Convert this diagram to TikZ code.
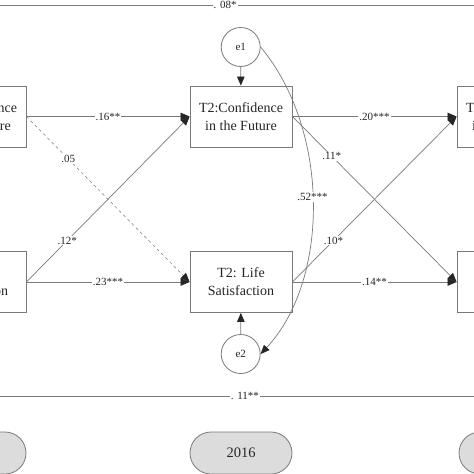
\documentclass[tikz,border=0pt]{standalone}
\usepackage{fontspec}
\setmainfont{Liberation Serif}
\usetikzlibrary{arrows.meta,shapes.misc}
\definecolor{linegray}{HTML}{7A7A7A}
\definecolor{pillgray}{HTML}{DCDCDC}
\definecolor{txt}{HTML}{262626}
\begin{document}
\begin{tikzpicture}[x=1pt,y=-1pt,
  box/.style={draw=linegray, line width=0.8pt, minimum width=102pt, minimum height=61pt,
    align=center, font=\fontsize{14}{18}\selectfont, text=txt, inner sep=0pt},
  err/.style={circle, draw=linegray, line width=0.8pt, minimum size=39pt, inner sep=0pt,
    font=\fontsize{11}{13}\selectfont, text=txt},
  conn/.style={draw=linegray, line width=0.7pt, -{Triangle[length=9pt,width=7.5pt,color=black!85]}},
  plain/.style={draw=linegray, line width=0.7pt},
  lab/.style={fill=white, inner sep=1pt, font=\fontsize{11}{13}\selectfont, text=txt},
  pill/.style={rounded rectangle, draw=linegray, line width=0.8pt, fill=pillgray,
    minimum width=102pt, minimum height=42pt, inner sep=0pt,
    font=\fontsize{14.5}{17}\selectfont, text=txt}
]
\useasboundingbox (0,0) rectangle (474,474);
\clip (0,0) rectangle (474,474);
\fill[white] (0,0) rectangle (474,474);

% boxes
\node[box] (tl) at (-25,116.5) {T1:Confidence\\in the Future};
\node[box] (bl) at (-25,282) {T1: Life\\Satisfaction};
\node[box] (tc) at (241,116.5) {T2:Confidence\\in the Future};
\node[box] (bc) at (241,282) {T2: Life\\Satisfaction};
\node[box] (tr) at (508,116.5) {T3:Confidence\\in the Future};
\node[box] (br) at (508,282) {T3: Life\\Satisfaction};

% error terms
\node[err] (e1) at (240.7,47) {e1};
\node[err] (e2) at (240.7,354) {e2};

% pills
\node[pill] (p1) at (-25,453) {};
\node[pill] (p2) at (241,453) {2016};
\node[pill] (p3) at (510,453) {};

% long lines
\coordinate (ta) at (-10,5);
\coordinate (tb) at (484,5);
\coordinate (ba) at (-10,396);
\coordinate (bb) at (484,396);
\draw[plain] (ta) -- node[lab, pos=0.476] {. 08*} (tb);
\draw[plain] (ba) -- node[lab, pos=0.516] {. 11**} (bb);

% T1 -> T2
\draw[conn] (tl.east) -- node[lab, pos=0.5] {.16**} (tc.west);
\draw[conn, dashed, line width=0.5pt] (tl.east) -- node[lab, pos=0.256] {.05} (bc.west);
\draw[conn] (bl.east) -- node[lab, pos=0.25] {.12*} (tc.west);
\draw[conn] (bl.east) -- node[lab, pos=0.5] {.23***} (bc.west);

% T2 -> T3
\draw[conn] (tc.east) -- node[lab, pos=0.5] {.20***} (tr.west);
\draw[conn] (tc.east) -- node[lab, pos=0.24] {.11*} (br.west);
\draw[conn] (bc.east) -- node[lab, pos=0.25] {.10*} (tr.west);
\draw[conn] (bc.east) -- node[lab, pos=0.5] {.14**} (br.west);

% errors
\draw[conn] (e1) -- (tc);
\draw[conn] (e2) -- (bc);

% covariance curve
\draw[conn] (e1.east) .. controls (330,130) and (330,280) .. node[lab, pos=0.48] {.52***} (e2.east);
\end{tikzpicture}
\end{document}
